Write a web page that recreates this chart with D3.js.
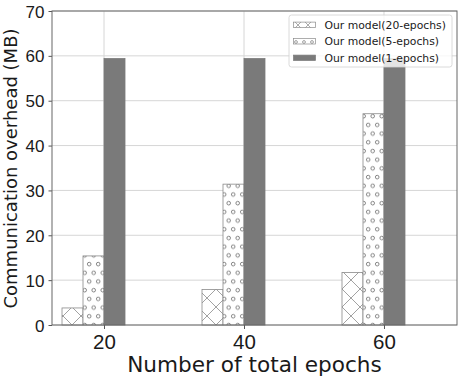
<!DOCTYPE html>
<html><head><meta charset="utf-8">
<script src="https://cdn.jsdelivr.net/npm/d3@7"></script>
<style>
html,body{margin:0;padding:0;background:#fff;}
svg{display:block;font-family:"DejaVu Sans",sans-serif;}
</style></head>
<body><svg id="c" width="474" height="379"></svg>
<script>
const categories = [20, 40, 60];
const seriesNames = ["Our model(20-epochs)", "Our model(5-epochs)", "Our model(1-epochs)"];
const values20 = [3.8, 7.9, 11.7];
const values5 = [15.4, 31.4, 47.1];
const values1 = [59.4, 59.4, 59.4];
const yTicks = [0, 10, 20, 30, 40, 50, 60, 70];
const xTicks = [20, 40, 60];
const xLabel = "Number of total epochs";
const yLabel = "Communication overhead (MB)";

const svg = d3.select("#c");
const L = 52, R = 457, T = 11, B = 325;
const x = d3.scaleLinear().domain([12.57, 70.43]).range([L, R]);
const y = d3.scaleLinear().domain([0, 70]).range([B, T]);
const barW = 3;

const defs = svg.append("defs");
// X hatch
const px = defs.append("pattern").attr("id", "hx").attr("patternUnits", "userSpaceOnUse")
  .attr("width", 18).attr("height", 18).attr("x", x(54)).attr("y", y(0));
px.append("rect").attr("width", 18).attr("height", 18).attr("fill", "#fff");
px.append("path").attr("d", "M0,0L18,18M18,0L0,18M-9,9L9,27M9,-9L27,9M-9,9L9,-9M9,27L27,9")
  .attr("stroke", "#8a8a8a").attr("stroke-width", 0.8).attr("fill", "none");
// o hatch
const po = defs.append("pattern").attr("id", "ho").attr("patternUnits", "userSpaceOnUse")
  .attr("width", 9).attr("height", 17.4).attr("x", x(57)).attr("y", y(0) - 4);
po.append("rect").attr("width", 9).attr("height", 17.4).attr("fill", "#fff");
[[0.7, 4], [9.7, 4], [5.2, 12.7]].forEach(([cx, cy]) => {
  po.append("circle").attr("cx", cx).attr("cy", cy).attr("r", 1.8)
    .attr("fill", "none").attr("stroke", "#777").attr("stroke-width", 0.9);
});
// legend patterns (small)
const plx = defs.append("pattern").attr("id", "lhx").attr("patternUnits", "userSpaceOnUse")
  .attr("width", 10).attr("height", 10).attr("x", 293).attr("y", 20);
plx.append("rect").attr("width", 10).attr("height", 10).attr("fill", "#fff");
plx.append("path").attr("d", "M0,0L10,10M10,0L0,10").attr("stroke", "#8a8a8a").attr("stroke-width", 0.7);
const plo = defs.append("pattern").attr("id", "lho").attr("patternUnits", "userSpaceOnUse")
  .attr("width", 8).attr("height", 20).attr("x", 293).attr("y", 34);
plo.append("rect").attr("width", 8).attr("height", 20).attr("fill", "#fff");
plo.append("circle").attr("cx", 3).attr("cy", 8).attr("r", 1.4).attr("fill", "none")
  .attr("stroke", "#777").attr("stroke-width", 0.7);

// grid
const g = svg.append("g");
g.selectAll(".hg").data(yTicks).enter().append("line")
  .attr("x1", L).attr("x2", R).attr("y1", d => y(d)).attr("y2", d => y(d))
  .attr("stroke", "#d6d6d6").attr("stroke-width", 1);
g.selectAll(".vg").data(xTicks).enter().append("line")
  .attr("x1", d => x(d)).attr("x2", d => x(d)).attr("y1", T).attr("y2", B)
  .attr("stroke", "#d6d6d6").attr("stroke-width", 1);

// bars
const series = [
  {vals: values20, off: -2, fill: "url(#hx)", stroke: "#8a8a8a"},
  {vals: values5, off: -1, fill: "url(#ho)", stroke: "#8a8a8a"},
  {vals: values1, off: 0, fill: "#7a7a7a", stroke: "#7a7a7a"}
];
series.forEach(s => {
  svg.append("g").selectAll("rect").data(categories).enter().append("rect")
    .attr("x", (d) => x(d + s.off * barW))
    .attr("width", x(barW) - x(0))
    .attr("y", (d, i) => y(s.vals[i]))
    .attr("height", (d, i) => y(0) - y(s.vals[i]))
    .attr("fill", s.fill).attr("stroke", s.stroke).attr("stroke-width", 0.8);
});

// axes
const xa = svg.append("g").attr("transform", `translate(0,${B})`)
  .call(d3.axisBottom(x).tickValues(xTicks).tickSize(4).tickPadding(4).tickFormat(d3.format("d")));
xa.select(".domain").remove();
xa.selectAll("line").attr("stroke", "#555");
xa.selectAll("text").attr("font-size", "20.5px").attr("fill", "#1a1a1a")
  .attr("y", 24).attr("dy", 0);
const ya = svg.append("g").attr("transform", `translate(${L},0)`)
  .call(d3.axisLeft(y).tickValues(yTicks).tickSize(3.5).tickPadding(4).tickFormat(d3.format("d")));
ya.select(".domain").remove();
ya.selectAll("line").attr("stroke", "#555");
ya.selectAll("text").attr("font-size", "17px").attr("fill", "#1a1a1a").attr("dy", "0.36em");

// frame
svg.append("rect").attr("x", L).attr("y", T).attr("width", R - L).attr("height", B - T)
  .attr("fill", "none").attr("stroke", "#666").attr("stroke-width", 1);

// labels
svg.append("text").attr("x", 254.5).attr("y", 371.5).attr("text-anchor", "middle")
  .attr("font-size", "21.6px").attr("fill", "#1a1a1a").text(xLabel);
svg.append("text").attr("transform", "translate(17,168.5) rotate(-90)").attr("text-anchor", "middle")
  .attr("font-size", "18px").attr("fill", "#1a1a1a").text(yLabel);

// legend
const lg = svg.append("g");
lg.append("rect").attr("x", 289).attr("y", 15).attr("width", 163).attr("height", 52).attr("rx", 2.5)
  .attr("fill", "#fff").attr("fill-opacity", 0.8).attr("stroke", "#d0d0d0").attr("stroke-width", 0.8);
const legFills = ["url(#lhx)", "url(#lho)", "#7a7a7a"];
const legStroke = ["#8a8a8a", "#8a8a8a", "#7a7a7a"];
seriesNames.forEach((n, i) => {
  const cy = 24.8 + i * 16.5;
  lg.append("rect").attr("x", 293.5).attr("y", cy - 2.7).attr("width", 22).attr("height", 5.4)
    .attr("fill", legFills[i]).attr("stroke", legStroke[i]).attr("stroke-width", 0.7);
  lg.append("text").attr("x", 324.5).attr("y", cy).attr("dy", "0.36em").attr("font-size", "10.8px")
    .attr("fill", "#1a1a1a").text(n);
});
</script></body></html>
